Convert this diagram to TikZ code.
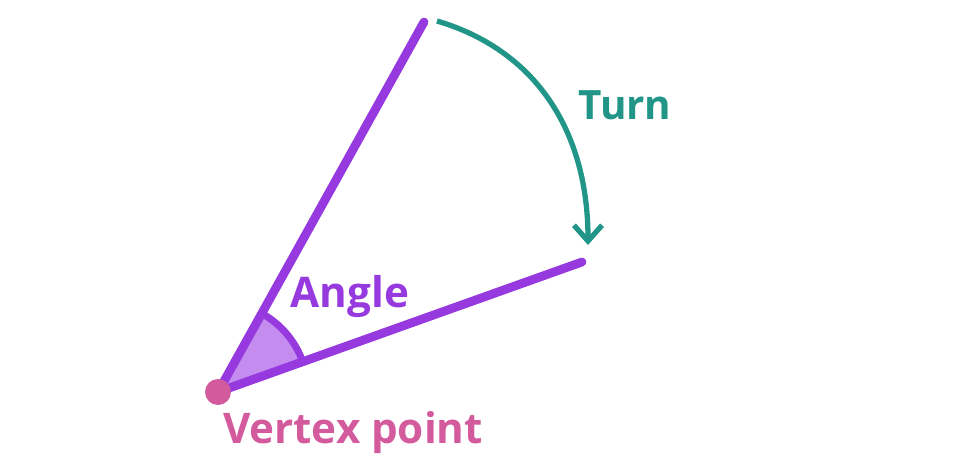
\documentclass[tikz,border=0pt]{standalone}
\usepackage{fontspec}
\setmainfont{Open Sans}
\usetikzlibrary{arrows.meta}
\definecolor{anglepurple}{RGB}{150,58,224}
\definecolor{anglefill}{RGB}{196,140,238}
\definecolor{turnteal}{RGB}{33,150,136}
\definecolor{vertexpink}{RGB}{212,90,158}
\begin{document}
\begin{tikzpicture}[x=0.02cm, y=0.02cm]
    \useasboundingbox (0,0) rectangle (976,470);

    % Vértice y extremos de los dos lados
    \coordinate (V) at (218,78);
    \coordinate (A) at (424,448);
    \coordinate (B) at (582,208);

    % Sector del ángulo entre los lados (19.65 y 60.9 grados)
    \filldraw[fill=anglefill, draw=anglepurple, line width=4pt, line join=round]
        (V) -- ++(19.65:1.8cm) arc[start angle=19.65, end angle=60.9, radius=1.8cm] -- cycle;

    \draw[anglepurple, line width=5pt, line cap=round] (V) -- (A);
    \draw[anglepurple, line width=5pt, line cap=round] (V) -- (B);

    % Giro del lado superior hacia el inferior
    \coordinate (T0) at (437,449);
    \coordinate (T1) at (588,225);
    \draw[turnteal, line width=3pt, -{Straight Barb[length=9pt, width=16pt, line width=3pt]}]
        (T0) .. controls (535,420) and (588,340) .. (T1);

    \fill[vertexpink] (V) circle (13);

    \node[turnteal, font=\fontsize{23}{26}\selectfont\bfseries] (turn) at (625,365) {Turn};
    \node[anglepurple, font=\fontsize{24}{26}\selectfont\bfseries] (angle) at (350,173) {Angle};
    \node[vertexpink, font=\fontsize{24}{26}\selectfont\bfseries] (vertex) at (353,37) {Vertex point};
\end{tikzpicture}
\end{document}
